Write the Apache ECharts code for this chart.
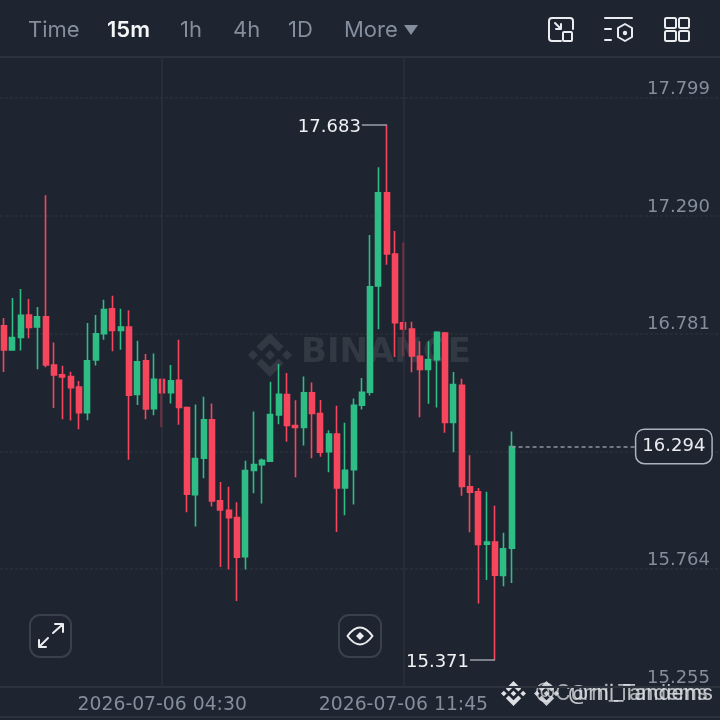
<!DOCTYPE html>
<html><head><meta charset="utf-8">
<style>html,body{margin:0;padding:0;background:#1e2430}#c{width:720px;height:720px}</style>
<script src="https://cdn.jsdelivr.net/npm/echarts@6/dist/echarts.min.js"></script>
</head><body><div id="c"></div>
<script>
const opens=[16.815,16.711,16.765,16.862,16.810,16.854,16.646,16.603,16.596,16.551,16.440,16.668,16.781,16.888,16.795,16.810,16.518,16.664,16.457,16.583,16.526,16.580,16.462,16.086,16.243,16.409,16.059,16.018,15.987,15.818,16.190,16.215,16.230,16.430,16.518,16.384,16.376,16.526,16.436,16.271,16.347,16.115,16.193,16.472,16.528,16.987,17.389,17.125,16.828,16.801,16.683,16.626,16.669,16.784,16.398,16.558,16.120,16.098,15.872,15.881,15.737,15.855];
const closes=[16.711,16.764,16.860,16.808,16.854,16.646,16.603,16.594,16.548,16.440,16.664,16.781,16.885,16.795,16.810,16.515,16.660,16.456,16.584,16.526,16.578,16.462,16.088,16.242,16.409,16.059,16.020,15.986,15.816,16.190,16.216,16.234,16.432,16.519,16.385,16.376,16.526,16.436,16.269,16.348,16.115,16.191,16.472,16.528,16.984,17.389,17.125,16.828,16.801,16.685,16.626,16.669,16.787,16.398,16.561,16.121,16.096,15.871,15.881,15.738,15.852,16.294];
const lows=[16.616,16.711,16.708,16.761,16.627,16.636,16.460,16.411,16.406,16.368,16.407,16.644,16.755,16.705,16.712,16.237,16.473,16.411,16.429,16.377,16.479,16.388,16.010,15.948,16.157,16.035,15.773,15.763,15.626,15.762,16.092,16.048,16.230,16.390,16.314,16.161,16.298,16.243,16.249,16.183,15.924,15.997,16.043,16.453,16.514,16.800,17.079,16.680,16.683,16.614,16.420,16.478,16.462,16.353,16.269,16.081,15.923,15.616,15.717,15.371,15.690,15.704];
const highs=[16.849,16.935,16.974,16.931,16.896,17.379,16.743,16.643,16.617,16.577,16.827,16.862,16.928,16.945,16.889,16.882,16.751,16.693,16.695,16.587,16.646,16.755,16.467,16.475,16.509,16.479,16.140,16.120,16.053,16.232,16.445,16.242,16.573,16.650,16.611,16.493,16.596,16.570,16.495,16.364,16.470,16.396,16.501,16.590,17.207,17.500,17.683,17.224,17.175,16.833,16.748,16.748,16.791,16.788,16.616,16.586,16.256,16.115,16.098,16.038,15.921,16.358];
const timeLabels=['2026-07-06 04:30','2026-07-06 11:45'];
const priceLabels=[15.255,15.764,16.781,17.290,17.799];
const gridLevels=[15.255,15.764,16.273,16.781,17.290,17.799];
const highPrice=17.683, lowPrice=15.371, lastPrice=16.294;
const tabs=['Time','15m','1h','4h','1D','More'];

const BAR_COUNT=87;
const pad=n=>String(n).padStart(2,'0');
const categories=[];
for(let i=0;i<BAR_COUNT;i++){
  const d=new Date(Date.UTC(2026,6,5,23,45)+i*900000);
  categories.push(d.getUTCFullYear()+'-'+pad(d.getUTCMonth()+1)+'-'+pad(d.getUTCDate())+' '+pad(d.getUTCHours())+':'+pad(d.getUTCMinutes()));
}
const candles=opens.map((o,i)=>[o,closes[i],lows[i],highs[i]]);
const FONT='Inter', NUM='DejaVu Sans';
const GREY='#848e9c', LINE='#2c323c', BG='#1e2430';
const LOGO='M38.73 53.2l24.59-24.58 24.6 24.6 14.3-14.31L63.32 0 24.43 38.9z M0 63.31l14.3-14.31 14.31 14.31-14.31 14.3z M38.73 73.41l24.59 24.59 24.6-24.6 14.31 14.29-38.9 38.91-38.91-38.88z M98 63.31l14.3-14.31 14.31 14.3-14.31 14.32z M77.83 63.3L63.32 48.78 52.59 59.51l-1.24 1.23-2.54 2.54 14.51 14.5 14.51-14.47z';
let shapeId=0;
const regPath=d=>{const name='iconShape'+(shapeId++);echarts.graphic.registerShape(name,echarts.graphic.extendPath(d,{}));return name;};
const logoShape=regPath(LOGO);
const text=(t,x,y,size,fill,weight,align)=>({type:'text',silent:true,style:{text:t,x,y,fontFamily:FONT,fontSize:size,fontWeight:weight||400,fill,textAlign:align||'left',textVerticalAlign:'middle'}});
const logo=(x,y,s,fill)=>({type:logoShape,silent:true,x,y,scaleX:s/126.61,scaleY:s/126.61,style:{fill}});
const stroke=(d,color,w)=>({type:regPath(d),silent:true,style:{fill:'none',stroke:color||'#eaecef',lineWidth:w||2,lineJoin:'round',lineCap:'round'}});
const rr=(x,y,w,h,r,color,lw)=>({type:'rect',silent:true,shape:{x,y,width:w,height:h,r},style:{fill:'none',stroke:color,lineWidth:lw}});
const hline=(y)=>({type:'line',silent:true,shape:{x1:0,y1:y,x2:720,y2:y},style:{stroke:LINE,lineWidth:2}});

const tabX=[28,107,180,233,288,344];
const graphicEls=[
  hline(57),hline(717),
  logo(248,333,44,'#333943'),
  {type:'text',silent:true,style:{text:'BINANCE',x:301,y:353,fontFamily:NUM,fontSize:34,fontWeight:700,fill:'#333943',textVerticalAlign:'middle',textAlign:'left'}},
  ...tabs.map((t,i)=>text(t,tabX[i],30,22,i===1?'#f5f6f7':GREY,i===1?600:400)),
  {type:'polygon',silent:true,shape:{points:[[404,25],[418,25],[411,35]]},style:{fill:GREY}},
  stroke('M561 41H552Q549 41 549 38V21Q549 18 552 18H570Q573 18 573 21V29'),
  rr(563,32,9,9,1,'#eaecef',2),
  stroke('M555 23L561 29M561 24V29H556'),
  stroke('M605 18H632'),stroke('M605 29H611'),stroke('M605 40H611'),
  stroke('M625 24L632 28V37L625 41L618 37V28Z'),
  {type:'circle',silent:true,shape:{cx:625,cy:33,r:2.2},style:{fill:'#eaecef'}},
  rr(665,18,11,10,1.5,'#eaecef',2),rr(679,18,10,10,1.5,'#eaecef',2),rr(665,31,11,10,1.5,'#eaecef',2),rr(679,31,10,10,1.5,'#eaecef',2),
  rr(30,615,41,42,10,'#3b414b',2),
  stroke('M39 647L48 638M39 640V647H46M53 633L62 625M55 624H63V632'),
  rr(339,615,42,42,10,'#3b414b',2),
  stroke('M347.5 636Q360 619 372.5 636Q360 653 347.5 636Z'),
  {type:'polygon',silent:true,shape:{points:[[360,632],[364,636],[360,640],[356,636]]},style:{fill:'#eaecef'}},
  logo(501,681,25,'#dcdfe3'),logo(534,681,25,'#c9ccd1'),
  text('@Curni_Tandems',535,694,21,'rgba(225,228,232,0.72)'),
  text('@rni_Tandems',568,694,21,'rgba(225,228,232,0.82)')
];

const chart=echarts.init(document.getElementById('c'),null,{renderer:'canvas'});
chart.setOption({
  animation:false,
  backgroundColor:BG,
  grid:{left:0,top:57,width:723.7,height:630,containLabel:false,outerBoundsMode:'none'},
  xAxis:{type:'category',data:categories,boundaryGap:true,
    axisLine:{show:true,lineStyle:{color:LINE,width:2}},axisTick:{show:false},splitLine:{show:false},
    axisLabel:{color:GREY,fontFamily:NUM,fontSize:18.8,margin:9,hideOverlap:false,
      interval:(i,v)=>timeLabels.includes(v)}},
  yAxis:{type:'value',position:'right',min:15.255,max:17.976,scale:true,
    axisLine:{show:false},
    axisTick:{show:false,customValues:gridLevels},
    splitLine:{show:true,lineStyle:{color:'#2a303a',width:1.5,type:[3,2]}},
    axisLabel:{inside:true,margin:13.7,color:GREY,fontFamily:NUM,fontSize:18,verticalAlign:'bottom',
      customValues:priceLabels,formatter:v=>v.toFixed(3)}},
  graphic:{z:0,elements:graphicEls},
  series:[
    {type:'line',data:closes,z:1,silent:true,symbol:'none',lineStyle:{opacity:0},
      markLine:{silent:true,symbol:'none',animation:false,label:{show:false},
        lineStyle:{color:LINE,width:1.5,type:'solid'},
        data:timeLabels.map(t=>({xAxis:t}))}},
    {type:'candlestick',z:2,data:candles,barWidth:5.5,
      itemStyle:{color:'#2EBD85',color0:'#F6465D',borderColor:'#2EBD85',borderColor0:'#F6465D',borderWidth:1.6},
      markLine:{silent:true,symbol:'none',animation:false,precision:3,
        data:[
          [{coord:[46,highPrice],lineStyle:{color:'#9aa0a8',width:1.5,type:'solid'},
            label:{show:true,position:'end',formatter:highPrice.toFixed(3),color:'#f0f1f2',fontFamily:NUM,fontSize:18,distance:1,offset:[0,2]}},
           {coord:[42.6,highPrice]}],
          [{coord:[59,lowPrice],lineStyle:{color:'#9aa0a8',width:1.5,type:'solid'},
            label:{show:true,position:'end',formatter:lowPrice.toFixed(3),color:'#f0f1f2',fontFamily:NUM,fontSize:18,distance:1,offset:[0,2]}},
           {coord:[55.7,lowPrice]}],
          [{coord:[61,lastPrice],lineStyle:{color:'#8f959e',width:1.5,type:[4,3]},
            label:{show:true,position:'end',formatter:lastPrice.toFixed(3),color:'#eaecef',fontFamily:NUM,fontSize:18,distance:0,
              backgroundColor:BG,borderColor:'#aeb4bc',borderWidth:1.5,borderRadius:8,padding:[9,6,6,6]}},
           {coord:[76,lastPrice]}]
        ]}}
  ]
});
</script></body></html>
